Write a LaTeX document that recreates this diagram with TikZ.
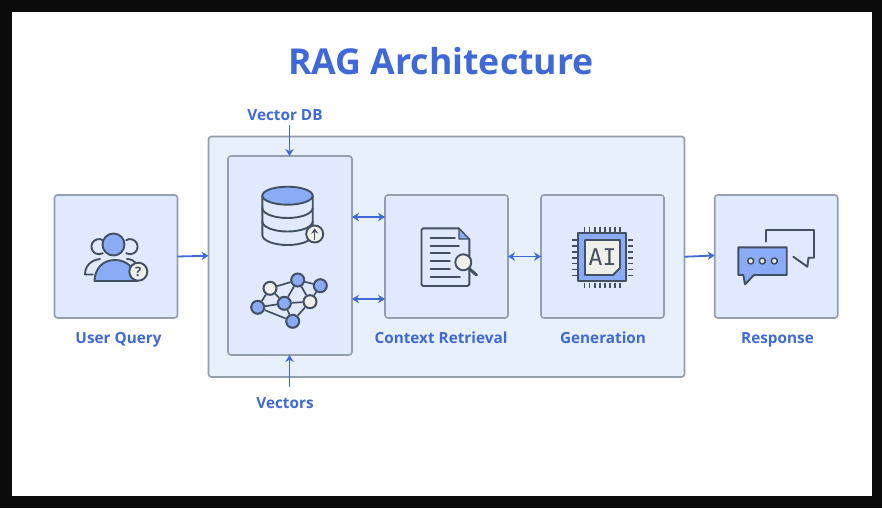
\documentclass[tikz,border=0pt]{standalone}
\usepackage{fontspec}
\setmainfont{Open Sans}
\newfontfamily\chipfont{DejaVu Sans Mono}
\usetikzlibrary{arrows.meta}
\definecolor{frameblack}{HTML}{0B0B0B}
\definecolor{outerfill}{HTML}{E8EFFD}
\definecolor{boxfill}{HTML}{E0E9FD}
\definecolor{boxline}{HTML}{939EAF}
\definecolor{accent}{HTML}{3F69D8}
\definecolor{icondark}{HTML}{434F63}
\definecolor{iconblue}{HTML}{8AABF5}
\definecolor{iconcream}{HTML}{EFF0EA}
\tikzset{
  panel/.style={draw=boxline,fill=boxfill,line width=1.6pt,rounded corners=3pt,inner sep=0pt,outer sep=0pt},
  lbl/.style={text=accent,font=\fontsize{15.3}{18}\selectfont\bfseries,inner sep=0pt,anchor=base},
  flow/.style={draw=accent,line width=1.8pt,-{Stealth[length=7pt,width=8.5pt]}},
  bothflow/.style={draw=accent,line width=1.8pt,{Stealth[length=7pt,width=8.5pt]}-{Stealth[length=7pt,width=8.5pt]}},
  ico/.style={draw=icondark,line width=1.9pt,line join=round,line cap=round},
  dot/.style={circle,draw=icondark,line width=2pt,minimum size=13pt,inner sep=0pt,fill=iconblue},
  link/.style={draw=icondark,line width=1.7pt},
}
\begin{document}
\begin{tikzpicture}[x=1pt,y=-1pt]
\useasboundingbox (0,0) rectangle (882,508);
\fill[frameblack] (0,0) rectangle (882,508);
\fill[white] (12,12) rectangle (872,496);
\node[text=accent,font=\fontsize{35.7}{40}\selectfont\bfseries,inner sep=0pt] (title) at (441,61) {RAG Architecture};
% panels
\node[panel,fill=outerfill,minimum width=476pt,minimum height=240.5pt] (big) at (446.5,256.75) {};
\node[panel,minimum width=123pt,minimum height=123pt] (uq) at (116,256.5) {};
\node[panel,minimum width=124pt,minimum height=199pt] (vdb) at (290,255.5) {};
\node[panel,minimum width=123pt,minimum height=123pt] (ctx) at (446.5,256.5) {};
\node[panel,minimum width=123pt,minimum height=123pt] (gen) at (602.5,256.5) {};
\node[panel,minimum width=123pt,minimum height=123pt] (resp) at (776.2,256.5) {};
% labels
\node[lbl] (luq) at (118.5,343.5) {User Query};
\node[lbl] (lvdb) at (285,120.2) {Vector DB};
\node[lbl] (lvec) at (285,408.7) {Vectors};
\node[lbl] (lctx) at (441,343.7) {Context Retrieval};
\node[lbl] (lgen) at (603,343.7) {Generation};
\node[lbl] (lresp) at (777.5,343.7) {Response};
\coordinate (vdbin) at (289.5,125);
\coordinate (vecin) at (289.5,387);
% connectors
\draw[flow] (uq.east) -- ([yshift=1pt]big.west);
\draw[flow] (big.east) -- ([yshift=1pt]resp.west);
\draw[flow] (vdbin) -- (vdbin |- vdb.north);
\draw[flow] (vecin) -- (vecin |- vdb.south);
\draw[bothflow] ([yshift=38.5pt]vdb.east) -- ([yshift=39.5pt]ctx.west);
\draw[bothflow] ([yshift=-43.5pt]vdb.east) -- ([yshift=-42.5pt]ctx.west);
\draw[bothflow] (ctx.east) -- (gen.west);
% user icon
\draw[ico] (102.8,240.1) arc[start angle=-60,end angle=-300,radius=7.6];
\draw[ico] (126.2,240.1) arc[start angle=-120,end angle=120,radius=7.6];
\draw[ico] (93,274.5) -- (85,274.5) .. controls (85,266) and (91,260) .. (100,259);
\draw[ico] (127,259) .. controls (131,259) and (134,261) .. (136,263);
\draw[ico,fill=iconblue] (94.5,281) .. controls (95,268) and (103,260) .. (115,260) .. controls (127,260) and (135,268) .. (137,281) -- cycle;
\draw[ico,fill=iconblue] (113.5,244.5) circle[radius=11];
\node[circle,draw=icondark,line width=1.9pt,fill=iconcream,minimum size=18pt,inner sep=0pt,text=icondark,font=\fontsize{13}{13}\selectfont\bfseries] (qbadge) at (138.3,271.7) {?};
% database icon
\draw[ico] (262.3,195.7) -- (262.3,235) arc[start angle=180,end angle=0,x radius=25.2,y radius=10] -- (312.7,195.7);
\draw[ico] (262.3,208) arc[start angle=180,end angle=0,x radius=25.2,y radius=10];
\draw[ico] (262.3,221.5) arc[start angle=180,end angle=0,x radius=25.2,y radius=10];
\draw[ico,fill=iconblue] (287.5,195.7) ellipse[x radius=25.2,y radius=9];
\node[circle,draw=icondark,line width=1.9pt,fill=iconcream,minimum size=17pt,inner sep=0pt] (upbadge) at (314.7,234) {};
\draw[ico,line width=1.5pt,-{Stealth[length=5pt,width=7pt]}] (314.7,239.5) -- (314.7,228.5);
% network icon
\node[dot,fill=iconcream] (n1) at (270,288.3) {};
\node[dot] (n2) at (297.7,280) {};
\node[dot] (n3) at (320.3,285.7) {};
\node[dot] (n4) at (257.7,307.3) {};
\node[dot] (n5) at (284.3,303.3) {};
\node[dot,fill=iconcream] (n6) at (310,301.7) {};
\node[dot] (n7) at (292.7,321.3) {};
\foreach \a/\b in {n1/n2,n2/n3,n1/n4,n1/n5,n2/n5,n2/n6,n3/n6,n4/n5,n4/n7,n5/n6,n5/n7,n6/n7}{\draw[link] (\a) -- (\b);}
% document icon
\draw[ico] (459,228.3) -- (423,228.3) -- (421.5,230) -- (421.5,284.5) -- (423,286) -- (467.5,286) -- (469.3,284.5) -- (469.3,239);
\draw[ico,line width=1.4pt,fill=iconblue] (459,228.3) -- (469.3,239) -- (459,239) -- cycle;
\foreach \yy/\xe in {237.7/455,245.7/459,253.3/450,261/450,269/450,276.7/460}{\draw[ico,line width=1.7pt] (430.5,\yy) -- (\xe,\yy);}
\draw[ico,line width=3pt] (469,268.5) -- (476.5,275);
\draw[ico,fill=iconcream] (463.3,262.3) circle[radius=8];
% chip icon
\foreach \i in {0,...,7}{
  \draw[ico,line width=1.6pt,line cap=butt] ({584.5+\i*5.1},226.5) -- ({584.5+\i*5.1},231.5);
  \draw[ico,line width=1.6pt,line cap=butt] ({584.5+\i*5.1},282.5) -- ({584.5+\i*5.1},287.5);
}
\foreach \i in {0,...,6}{
  \draw[ico,line width=1.6pt,line cap=butt] (571.5,{240+\i*5.9}) -- (576.5,{240+\i*5.9});
  \draw[ico,line width=1.6pt,line cap=butt] (628,{240+\i*5.9}) -- (633,{240+\i*5.9});
}
\draw[ico,line width=2.1pt,fill=iconblue] (578.3,233.3) rectangle (625.7,280.7);
\draw[ico,line width=1.9pt,fill=iconcream] (585,240) -- (620,240) -- (620,268) -- (613,275) -- (585,275) -- cycle;
\node[text=icondark,font=\chipfont\fontsize{23}{23}\selectfont,inner sep=0pt] (chipai) at (602.5,257) {AI};
% chat icon
\draw[ico] (766,241.7) -- (766,230) -- (814,230) -- (814,257.7) -- (808.5,257.7) -- (807.3,266.7) -- (793.3,256.7);
\draw[ico,fill=iconblue] (738.3,247.3) -- (786.7,247.3) -- (786.7,275) -- (754,275) -- (745,284.3) -- (743.3,275) -- (738.3,275) -- cycle;
\foreach \xx in {750.7,762.3,774.3}{\draw[ico,line width=1.6pt,fill=iconcream] (\xx,261) circle[radius=3];}
\end{tikzpicture}
\end{document}
